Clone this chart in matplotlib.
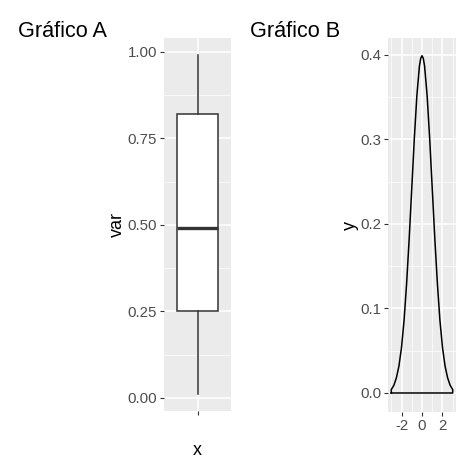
import matplotlib
matplotlib.use("Agg")
import matplotlib.pyplot as plt
import numpy as np

plt.rcParams['font.family'] = ['Liberation Sans', 'DejaVu Sans']

# Grafico A: boxplot summary of var
box_stats = {"whislo": 0.01, "q1": 0.25, "med": 0.49, "q3": 0.82, "whishi": 0.99}
a_yticks = [0.00, 0.25, 0.50, 0.75, 1.00]
a_ylabels = ["0.00", "0.25", "0.50", "0.75", "1.00"]

# Grafico B: density curve
b_x = [-3.0, -2.75, -2.5, -2.25, -2.0, -1.75, -1.5, -1.25, -1.0, -0.75, -0.5, -0.25, -0.125,
       0.0, 0.125, 0.25, 0.5, 0.75, 1.0, 1.25, 1.5, 1.75, 2.0, 2.25, 2.5, 2.75, 3.0]
b_y = [0.004, 0.009, 0.018, 0.032, 0.054, 0.086, 0.130, 0.183, 0.242, 0.301, 0.352, 0.387, 0.396,
       0.399, 0.396, 0.387, 0.352, 0.301, 0.242, 0.183, 0.130, 0.086, 0.054, 0.032, 0.018, 0.009, 0.004]
b_xticks = [-2, 0, 2]
b_yticks = [0.0, 0.1, 0.2, 0.3, 0.4]

W = 474.0
fig = plt.figure(figsize=(4.74, 4.74), dpi=100)

def gg_style(ax):
    ax.set_facecolor("#EBEBEB")
    for s in ax.spines.values():
        s.set_visible(False)
    ax.tick_params(length=3, width=0.8, color="#333333", labelcolor="#4D4D4D",
                   labelsize=10.8, pad=2)
    ax.set_axisbelow(True)

def px_axes(left, top, right, bottom):
    return fig.add_axes([left / W, 1 - bottom / W, (right - left) / W, (bottom - top) / W])

# ---- panel A
axA = px_axes(164, 38, 231, 411)
gg_style(axA)
axA.set_xlim(0.4, 1.6)
axA.set_ylim(-0.038, 1.04)
for v in [0.125, 0.375, 0.625, 0.875]:
    axA.axhline(v, color="white", lw=0.5, zorder=0)
for v in a_yticks:
    axA.axhline(v, color="white", lw=1.1, zorder=0)
axA.axvline(1, color="white", lw=1.1, zorder=0)
bp = axA.bxp([box_stats], positions=[1], widths=0.75, showfliers=False,
             patch_artist=True, showcaps=False,
             boxprops=dict(facecolor="white", edgecolor="#333333", linewidth=1.1),
             whiskerprops=dict(color="#333333", linewidth=1.1),
             medianprops=dict(color="#333333", linewidth=2.4))
axA.set_xticks([1])
axA.set_xticklabels([""])
axA.set_yticks(a_yticks)
axA.set_yticklabels(a_ylabels)
axA.set_xlabel("x", fontsize=13, labelpad=17)
axA.set_ylabel("var", fontsize=13, labelpad=1)

# ---- panel B
axB = px_axes(388, 38, 456, 412)
gg_style(axB)
axB.set_xlim(-3.32, 3.32)
axB.set_ylim(-0.0225, 0.42)
for v in [0.05, 0.15, 0.25, 0.35]:
    axB.axhline(v, color="white", lw=0.5, zorder=0)
for v in b_yticks:
    axB.axhline(v, color="white", lw=1.1, zorder=0)
for v in [-3, -1, 1, 3]:
    axB.axvline(v, color="white", lw=0.5, zorder=0)
for v in b_xticks:
    axB.axvline(v, color="white", lw=1.1, zorder=0)
# closed outline like geom_density
outline_x = [b_x[0]] + b_x + [b_x[-1], b_x[0]]
outline_y = [0.0] + b_y + [0.0, 0.0]
axB.plot(outline_x, outline_y, color="black", lw=1.1)
axB.set_xticks(b_xticks)
axB.set_xticklabels(["-2", "0", "2"])
axB.set_yticks(b_yticks)
axB.set_yticklabels(["0.0", "0.1", "0.2", "0.3", "0.4"])
axB.set_ylabel("y", fontsize=13, labelpad=1)

fig.text(18 / W, 1 - 37 / W, "Gráfico A", fontsize=15.6, ha="left", va="baseline")
fig.text(250 / W, 1 - 37 / W, "Gráfico B", fontsize=15.6, ha="left", va="baseline")

fig.savefig("out.png", dpi=100, facecolor="white")
